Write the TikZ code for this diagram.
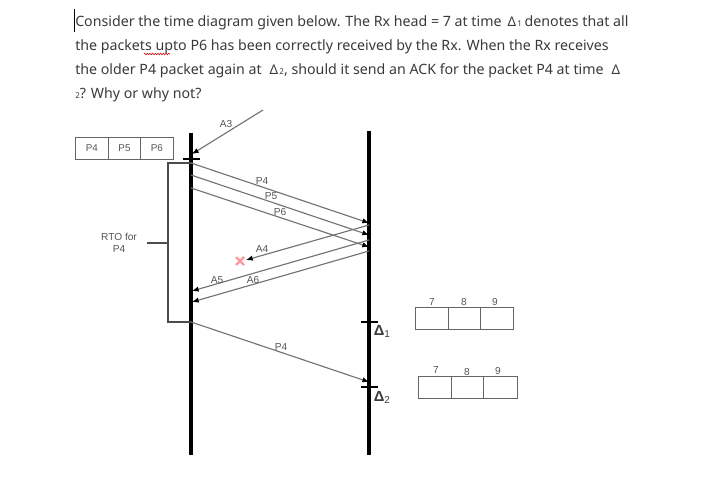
\documentclass[tikz,border=0pt]{standalone}
\usepackage{fontspec}
\setmainfont{Noto Sans}
\newfontfamily\labfont{Liberation Sans}
\usetikzlibrary{arrows.meta,decorations.pathmorphing}
\definecolor{ink}{HTML}{3A3A3A}
\definecolor{lab}{HTML}{555555}
\tikzset{
 x=0.75pt,y=-0.75pt,
 qline/.style={anchor=base west,inner sep=0,text=ink,font=\fontsize{10.65pt}{12pt}\selectfont},
 axis/.style={line width=2.4pt,black},
 tick/.style={line width=1.5pt,black},
 msg/.style={line width=0.85pt,draw=black!55,-{Latex[length=5pt,width=4pt,black]}},
 lbl/.style={inner sep=0,text=lab,font=\labfont\fontsize{7.6pt}{8.6pt}\selectfont,align=center},
 cell/.style={draw=black!60,line width=0.75pt,minimum height=16.5pt,inner sep=0,anchor=north west,text=lab,font=\labfont\fontsize{7.4pt}{8.6pt}\selectfont},
 rtoline/.style={line width=0.95pt,draw=black!70},
 lostx/.style={line width=1.6pt,draw=red!40!white},
 delta/.style={inner sep=0,text=ink,font=\labfont\bfseries\fontsize{11pt}{12pt}\selectfont},
}
\newcommand{\dsub}[1]{{\fontsize{10pt}{10pt}\selectfont Δ\hspace{1pt}\fontsize{6pt}{6pt}\selectfont #1}}
\begin{document}
\begin{tikzpicture}
\useasboundingbox (0,0) rectangle (707,499);
\fill[white] (0,0) rectangle (707,499);
% question
\node[qline] (q1) at (75,26.5) {Consider the time diagram given below. The Rx head = 7 at time\, \dsub{1}\hspace{2pt}denotes that all};
\node[qline] (q2) at (75,50.5) {the packets upto P6 has been correctly received by the Rx. When the Rx receives};
\node[qline] (q3) at (75,74.5) {the older P4 packet again at\hspace{6pt}\dsub{2}, should it send an ACK for the packet P4 at time\hspace{6pt}{\fontsize{10pt}{10pt}\selectfont Δ}};
\node[qline] (q4) at (75,98.5) {{\fontsize{6pt}{6pt}\selectfont 2}? Why or why not?};
\draw[black,line width=0.7pt] (74,9) -- (74,32);
\draw[red!80!black,line width=0.4pt,decorate,decoration={zigzag,amplitude=0.6pt,segment length=2pt}] (144,54) -- (170,54);
% axes
\coordinate (ltop) at (191,133); \coordinate (lbot) at (191,455);
\coordinate (rtop) at (369,131); \coordinate (rbot) at (369,455);
\draw[axis] (ltop) -- (lbot);
\draw[axis] (rtop) -- (rbot);
% ticks
\draw[tick] (183,159) -- (200,159);
\draw[tick] (361,322) -- (378,322);
\draw[tick] (361,387) -- (378,387);
% cells
\node[cell,minimum width=24.5pt] (p4c) at (75,137) {P4};
\node[cell,minimum width=24pt] (p5c) at (108,137) {P5};
\node[cell,minimum width=24.5pt] (p6c) at (140,137) {P6};
% RTO
\draw[rtoline] (191,163) -- (168,163) -- (168,322) -- (191,322);
\node[lbl] (rto) at (119,243) {RTO for\\P4};
\coordinate (rtoa) at (147,243); \coordinate (rtob) at (168,243);
\draw[rtoline] (rtoa) -- (rtob);
% messages
\coordinate (a3s) at (263,110); \coordinate (a3e) at (192,154);
\draw[msg] (a3s) -- (a3e);
\node[lbl] (a3) at (226,124) {A3};
\coordinate (p4s) at (191,163); \coordinate (p4e) at (369,223);
\coordinate (p5s) at (191,175); \coordinate (p5e) at (369,235);
\coordinate (p6s) at (191,188); \coordinate (p6e) at (369,247);
\draw[msg] (p4s) -- (p4e);
\draw[msg] (p5s) -- (p5e);
\draw[msg] (p6s) -- (p6e);
\node[lbl] (lp4) at (262,181) {P4};
\node[lbl] (lp5) at (271,196) {P5};
\node[lbl] (lp6) at (280,212) {P6};
\coordinate (a4s) at (369,225); \coordinate (a4e) at (246,260);
\coordinate (a5s) at (369,240); \coordinate (a5e) at (192,291);
\coordinate (a6s) at (369,251); \coordinate (a6e) at (192,302);
\draw[msg] (a4s) -- (a4e);
\draw[msg] (a5s) -- (a5e);
\draw[msg] (a6s) -- (a6e);
\node[lbl] (la4) at (262,249) {A4};
\node[lbl] (la5) at (217,280) {A5};
\node[lbl] (la6) at (253,280) {A6};
\draw[lostx] (236,257) -- (244,265);
\draw[lostx] (244,257) -- (236,265);
\coordinate (p4bs) at (191,322); \coordinate (p4be) at (369,382);
\draw[msg] (p4bs) -- (p4be);
\node[lbl] (lp4b) at (281,347) {P4};
% deltas
\node[delta] (d1) at (382,331.5) {Δ\raisebox{-1.5pt}{\labfont\mdseries\fontsize{7.5pt}{8pt}\selectfont 1}};
\node[delta] (d2) at (382,397.5) {Δ\raisebox{-1.5pt}{\labfont\mdseries\fontsize{7.5pt}{8pt}\selectfont 2}};
% windows
\node[cell,minimum width=24.7pt] (w1a) at (415,307) {};
\node[cell,minimum width=24pt] (w1b) at (448,307) {};
\node[cell,minimum width=24.7pt] (w1c) at (480,307) {};
\node[cell,minimum width=24.7pt] (w2a) at (418,376) {};
\node[cell,minimum width=24pt] (w2b) at (451,376) {};
\node[cell,minimum width=25.5pt] (w2c) at (483,376) {};
\node[lbl] (t1) at (432,302) {7};
\node[lbl] (t2) at (464,302) {8};
\node[lbl] (t3) at (495,302) {9};
\node[lbl] (t4) at (436,370) {7};
\node[lbl] (t5) at (467,372) {8};
\node[lbl] (t6) at (498,371) {9};
\end{tikzpicture}
\end{document}
